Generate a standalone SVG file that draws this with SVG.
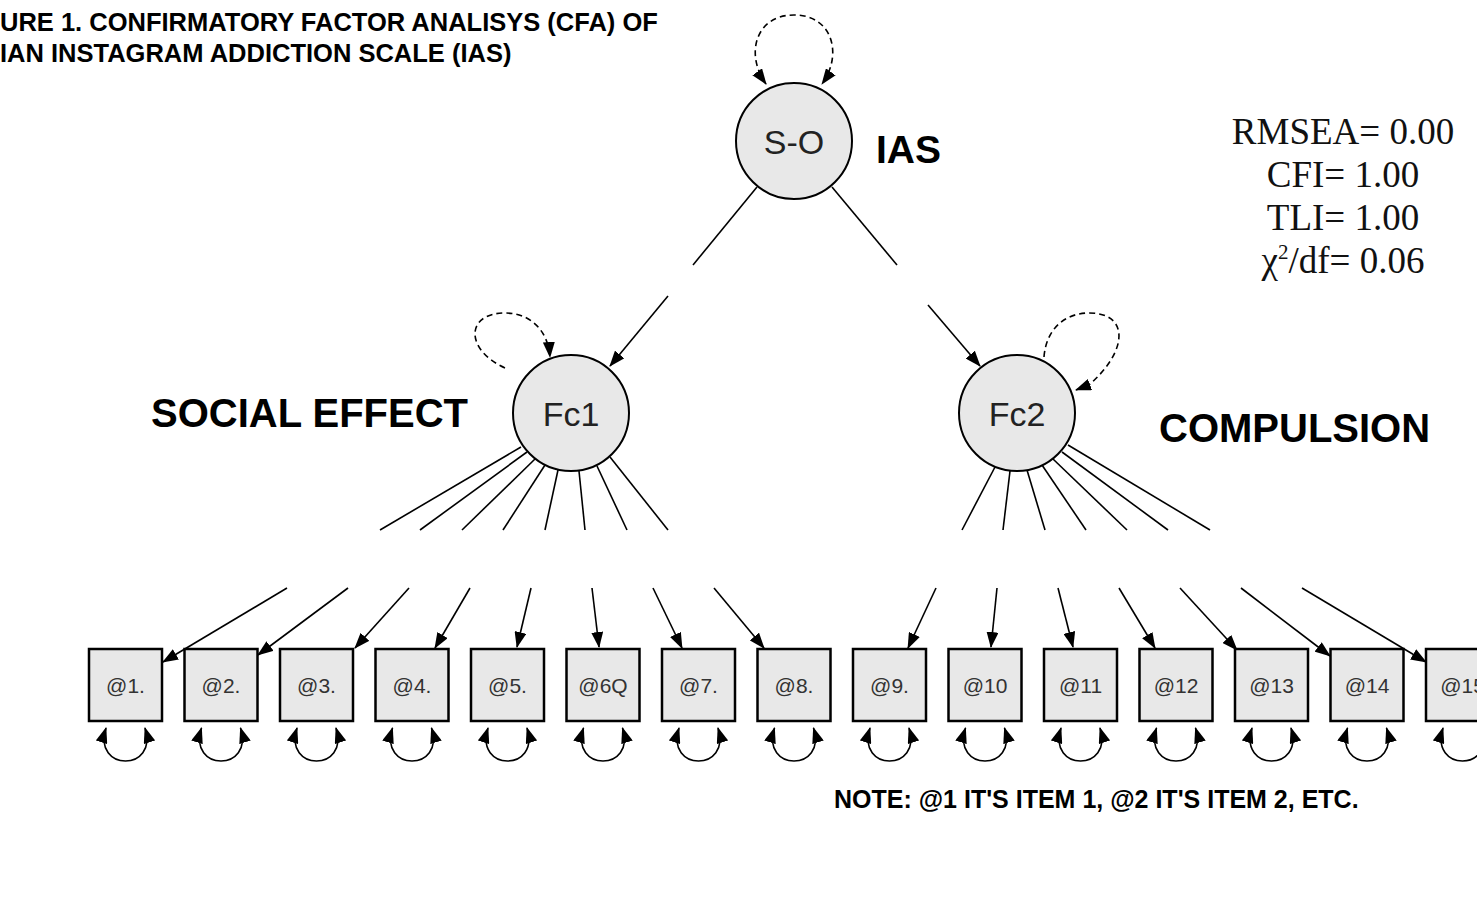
<svg xmlns="http://www.w3.org/2000/svg" width="1477" height="899" viewBox="0 0 1477 899">
<defs>
<marker id="ahs" markerWidth="16" markerHeight="12" refX="15" refY="6" orient="auto" markerUnits="userSpaceOnUse" viewBox="0 0 16 12"><path d="M0,0 L16,6 L0,12 z" fill="#000"/></marker>
<marker id="ahr" markerWidth="16" markerHeight="12" refX="15" refY="6" orient="auto-start-reverse" markerUnits="userSpaceOnUse" viewBox="0 0 16 12"><path d="M0,0 L16,6 L0,12 z" fill="#000"/></marker>
</defs>
<style>
.lat{fill:#e8e8e8;stroke:#000;stroke-width:2}
.box{fill:#e8e8e8;stroke:#000;stroke-width:2.5}
.ln{stroke:#000;stroke-width:1.6;fill:none}
.dash{stroke:#000;stroke-width:1.6;fill:none;stroke-dasharray:6,4}
.lt{font-family:"Liberation Sans",Arial,sans-serif;font-size:34px;fill:#222;text-anchor:middle}
.it{font-family:"Liberation Sans",Arial,sans-serif;font-size:21px;fill:#333;text-anchor:middle}
.hd{font-family:"Liberation Sans",Arial,sans-serif;font-weight:bold;fill:#000}
.st{font-family:"Liberation Serif","Times New Roman",serif;font-size:37px;fill:#111;text-anchor:middle}
.el{stroke:#000;stroke-width:1.6;fill:none;marker-start:url(#ahr);marker-end:url(#ahr)}
</style>
<rect width="1477" height="899" fill="#fff"/>
<g id="title" class="hd" font-size="25.5">
<text x="0" y="31">URE 1. CONFIRMATORY FACTOR ANALISYS (CFA) OF</text>
<text x="0" y="62">IAN INSTAGRAM ADDICTION SCALE (IAS)</text>
</g>
<g id="stats" class="st">
<text x="1343" y="144">RMSEA= 0.00</text>
<text x="1343" y="187">CFI= 1.00</text>
<text x="1343" y="230">TLI= 1.00</text>
<text x="1343" y="273">χ<tspan font-size="21" dy="-14">2</tspan><tspan dy="14">/df= 0.06</tspan></text>
</g>
<g id="connectors">
<path class="dash" d="M766,84 C745,55 755,15 794,15 C833,15 843,55 822,84" marker-start="url(#ahr)" marker-end="url(#ahr)"/>
<line class="ln" x1="757" y1="187" x2="693" y2="265"/>
<line class="ln" x1="832" y1="187" x2="897" y2="265"/>
<line class="ln" x1="668" y1="296" x2="610" y2="366" marker-end="url(#ahs)"/>
<line class="ln" x1="928" y1="305" x2="980" y2="366" marker-end="url(#ahs)"/>
<path class="dash" d="M505,368 C465,350 465,313 505,313 C530,313 548,330 550,357" marker-end="url(#ahs)"/>
<path class="dash" d="M1044,357 C1046,330 1064,313 1089,313 C1129,313 1129,350 1089,385 L1076,390" marker-end="url(#ahs)"/>
<g id="fc1lines">
<line class="ln" x1="521" y1="447" x2="380" y2="530"/>
<line class="ln" x1="527" y1="452" x2="420" y2="530"/>
<line class="ln" x1="535" y1="459" x2="462" y2="530"/>
<line class="ln" x1="545" y1="465" x2="503" y2="530"/>
<line class="ln" x1="558" y1="470" x2="545" y2="530"/>
<line class="ln" x1="579" y1="471" x2="585" y2="530"/>
<line class="ln" x1="597" y1="466" x2="627" y2="530"/>
<line class="ln" x1="610" y1="457" x2="668" y2="530"/>
</g>
<g id="fc2lines">
<line class="ln" x1="995" y1="467" x2="962" y2="530"/>
<line class="ln" x1="1010" y1="471" x2="1003" y2="530"/>
<line class="ln" x1="1027" y1="470" x2="1045" y2="530"/>
<line class="ln" x1="1042" y1="465" x2="1086" y2="530"/>
<line class="ln" x1="1053" y1="459" x2="1127" y2="530"/>
<line class="ln" x1="1062" y1="452" x2="1168" y2="530"/>
<line class="ln" x1="1068" y1="445" x2="1210" y2="530"/>
</g>
<g id="itemarrows">
<line class="ln" x1="287" y1="588" x2="163" y2="662" marker-end="url(#ahs)"/>
<line class="ln" x1="348" y1="588" x2="258" y2="655" marker-end="url(#ahs)"/>
<line class="ln" x1="409" y1="588" x2="355" y2="648" marker-end="url(#ahs)"/>
<line class="ln" x1="470" y1="588" x2="435" y2="648" marker-end="url(#ahs)"/>
<line class="ln" x1="531" y1="588" x2="517" y2="647" marker-end="url(#ahs)"/>
<line class="ln" x1="592" y1="588" x2="599" y2="647" marker-end="url(#ahs)"/>
<line class="ln" x1="653" y1="588" x2="682" y2="648" marker-end="url(#ahs)"/>
<line class="ln" x1="714" y1="588" x2="764" y2="648" marker-end="url(#ahs)"/>
<line class="ln" x1="936" y1="588" x2="908" y2="648" marker-end="url(#ahs)"/>
<line class="ln" x1="997" y1="588" x2="991" y2="647" marker-end="url(#ahs)"/>
<line class="ln" x1="1058" y1="588" x2="1073" y2="647" marker-end="url(#ahs)"/>
<line class="ln" x1="1119" y1="588" x2="1155" y2="648" marker-end="url(#ahs)"/>
<line class="ln" x1="1180" y1="588" x2="1237" y2="650" marker-end="url(#ahs)"/>
<line class="ln" x1="1241" y1="588" x2="1330" y2="656" marker-end="url(#ahs)"/>
<line class="ln" x1="1302" y1="588" x2="1426" y2="662" marker-end="url(#ahs)"/>
</g>
</g>
<g id="SO"><circle class="lat" cx="794" cy="141" r="58"/><text class="lt" x="794" y="154">S-O</text>
<text class="hd" x="876" y="163" font-size="39">IAS</text></g>
<g id="Fc1"><circle class="lat" cx="571" cy="413" r="58"/><text class="lt" x="571" y="426">Fc1</text>
<text class="hd" x="151" y="427" font-size="40">SOCIAL EFFECT</text></g>
<g id="Fc2"><circle class="lat" cx="1017" cy="413" r="58"/><text class="lt" x="1017" y="426">Fc2</text>
<text class="hd" x="1159" y="442" font-size="40">COMPULSION</text></g>
<g id="items">
<g id="i1"><rect class="box" x="89" y="649" width="73" height="72"/><text class="it" x="125.5" y="693">@1.</text><path class="el" d="M106,728 C92,772 159,772 145,728"/></g>
<g id="i2"><rect class="box" x="184.5" y="649" width="73" height="72"/><text class="it" x="221" y="693">@2.</text><path class="el" d="M201.5,728 C187.5,772 254.5,772 240.5,728"/></g>
<g id="i3"><rect class="box" x="280" y="649" width="73" height="72"/><text class="it" x="316.5" y="693">@3.</text><path class="el" d="M297,728 C283,772 350,772 336,728"/></g>
<g id="i4"><rect class="box" x="375.5" y="649" width="73" height="72"/><text class="it" x="412" y="693">@4.</text><path class="el" d="M392.5,728 C378.5,772 445.5,772 431.5,728"/></g>
<g id="i5"><rect class="box" x="471" y="649" width="73" height="72"/><text class="it" x="507.5" y="693">@5.</text><path class="el" d="M488,728 C474,772 541,772 527,728"/></g>
<g id="i6"><rect class="box" x="566.5" y="649" width="73" height="72"/><text class="it" x="603" y="693">@6Q</text><path class="el" d="M583.5,728 C569.5,772 636.5,772 622.5,728"/></g>
<g id="i7"><rect class="box" x="662" y="649" width="73" height="72"/><text class="it" x="698.5" y="693">@7.</text><path class="el" d="M679,728 C665,772 732,772 718,728"/></g>
<g id="i8"><rect class="box" x="757.5" y="649" width="73" height="72"/><text class="it" x="794" y="693">@8.</text><path class="el" d="M774.5,728 C760.5,772 827.5,772 813.5,728"/></g>
<g id="i9"><rect class="box" x="853" y="649" width="73" height="72"/><text class="it" x="889.5" y="693">@9.</text><path class="el" d="M870,728 C856,772 923,772 909,728"/></g>
<g id="i10"><rect class="box" x="948.5" y="649" width="73" height="72"/><text class="it" x="985" y="693">@10</text><path class="el" d="M965.5,728 C951.5,772 1018.5,772 1004.5,728"/></g>
<g id="i11"><rect class="box" x="1044" y="649" width="73" height="72"/><text class="it" x="1080.5" y="693">@11</text><path class="el" d="M1061,728 C1047,772 1114,772 1100,728"/></g>
<g id="i12"><rect class="box" x="1139.5" y="649" width="73" height="72"/><text class="it" x="1176" y="693">@12</text><path class="el" d="M1156.5,728 C1142.5,772 1209.5,772 1195.5,728"/></g>
<g id="i13"><rect class="box" x="1235" y="649" width="73" height="72"/><text class="it" x="1271.5" y="693">@13</text><path class="el" d="M1252,728 C1238,772 1305,772 1291,728"/></g>
<g id="i14"><rect class="box" x="1330.5" y="649" width="73" height="72"/><text class="it" x="1367" y="693">@14</text><path class="el" d="M1347.5,728 C1333.5,772 1400.5,772 1386.5,728"/></g>
<g id="i15"><rect class="box" x="1426" y="649" width="73" height="72"/><text class="it" x="1462.5" y="693">@15</text><path class="el" d="M1443,728 C1429,772 1496,772 1482,728"/></g>
</g>
<text id="note" class="hd" x="834" y="808" font-size="25">NOTE: @1 IT'S ITEM 1, @2 IT'S ITEM 2, ETC.</text>
</svg>
